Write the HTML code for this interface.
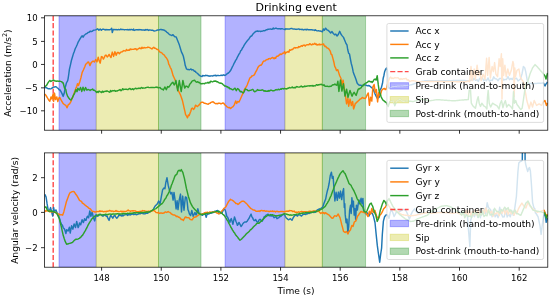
<!DOCTYPE html>
<html><head><meta charset="utf-8"><title>Drinking event</title>
<style>html,body{margin:0;padding:0;background:#fff;}body{width:550px;height:297px;overflow:hidden;}svg{display:block;}</style>
</head><body>
<svg width="550" height="297" viewBox="0 0 550 297" font-family='"DejaVu Sans","Liberation Sans",sans-serif' fill="#000">
<defs><clipPath id="ct"><rect x="44.5" y="15.8" width="503.3" height="114.4"/></clipPath><clipPath id="cb"><rect x="44.5" y="152.9" width="503.3" height="114.3"/></clipPath></defs>
<rect width="550" height="297" fill="#fff"/>
<text x="296.1" y="10.5" text-anchor="middle" font-size="11.0">Drinking event</text>
<g>
<rect x="59.0" y="15.8" width="37.2" height="114.4" fill="#0000ff" fill-opacity="0.3" stroke="#0000ff" stroke-opacity="0.3" stroke-width="0.92" clip-path="url(#ct)"/>
<rect x="96.2" y="15.8" width="62.3" height="114.4" fill="#bfbf00" fill-opacity="0.3" stroke="#bfbf00" stroke-opacity="0.3" stroke-width="0.92" clip-path="url(#ct)"/>
<rect x="158.5" y="15.8" width="42.5" height="114.4" fill="#008000" fill-opacity="0.3" stroke="#008000" stroke-opacity="0.3" stroke-width="0.92" clip-path="url(#ct)"/>
<rect x="225.1" y="15.8" width="59.8" height="114.4" fill="#0000ff" fill-opacity="0.3" stroke="#0000ff" stroke-opacity="0.3" stroke-width="0.92" clip-path="url(#ct)"/>
<rect x="284.9" y="15.8" width="37.4" height="114.4" fill="#bfbf00" fill-opacity="0.3" stroke="#bfbf00" stroke-opacity="0.3" stroke-width="0.92" clip-path="url(#ct)"/>
<rect x="322.3" y="15.8" width="43.3" height="114.4" fill="#008000" fill-opacity="0.3" stroke="#008000" stroke-opacity="0.3" stroke-width="0.92" clip-path="url(#ct)"/>
<line x1="53.2" y1="15.8" x2="53.2" y2="130.2" stroke="#ff0000" stroke-opacity="0.7" stroke-width="1.45" stroke-dasharray="5.09 2.2" clip-path="url(#ct)"/>
<polyline points="44.6,87.0 45.4,87.6 46.2,87.8 47.0,88.0 47.8,88.6 48.7,88.8 49.5,88.7 50.4,88.9 51.3,88.6 52.1,88.0 53.0,87.5 53.8,87.0 54.7,87.0 55.5,86.8 56.4,86.9 57.2,87.9 58.1,88.3 59.0,89.7 60.0,90.0 61.0,91.6 61.9,93.4 63.2,96.4 64.2,93.3 65.1,88.1 66.4,83.0 67.7,80.6 68.2,78.1 68.8,74.0 69.4,69.3 70.4,65.1 71.4,60.5 72.3,57.5 73.3,54.1 74.2,51.7 75.2,48.8 76.2,46.8 77.1,44.7 78.0,42.4 79.0,40.7 80.0,38.8 81.0,37.3 82.2,35.8 83.1,37.2 84.2,35.3 85.2,34.5 86.1,33.7 87.0,33.5 88.0,32.5 88.9,32.4 89.7,31.5 90.6,31.3 91.4,31.5 92.3,31.3 93.1,30.5 94.0,30.1 94.8,30.1 95.7,29.9 96.7,29.3 97.6,28.8 98.9,30.2 100.2,28.9 101.4,30.2 102.5,29.3 103.5,29.2 104.6,29.7 105.3,30.0 106.1,29.4 106.8,29.8 107.5,29.6 108.2,29.8 109.0,29.7 109.7,29.8 110.7,29.4 111.7,28.3 112.3,32.6 113.3,29.4 114.2,29.4 115.1,29.8 116.0,29.4 116.8,29.8 117.6,29.8 118.4,29.4 119.2,29.8 120.0,29.6 120.8,29.1 121.5,29.6 122.2,29.4 123.0,29.5 123.8,29.6 124.5,29.9 125.2,29.6 126.0,29.6 127.0,29.7 128.0,29.5 128.7,30.0 129.4,29.5 130.1,29.9 130.9,29.5 131.6,29.5 132.3,29.7 133.0,30.0 133.6,29.1 134.2,30.4 135.1,30.1 136.0,29.7 136.7,29.8 137.5,29.7 138.2,30.0 138.9,29.5 139.6,29.8 140.4,29.6 141.1,29.7 141.8,30.1 142.5,29.9 143.3,30.0 144.0,30.0 144.8,30.2 145.5,29.6 146.2,30.0 147.0,29.5 147.8,29.9 148.5,30.4 149.2,29.9 150.0,29.9 150.7,30.1 151.5,30.2 152.2,30.3 152.9,30.3 153.6,30.9 154.4,31.0 155.1,30.9 156.0,30.6 156.8,30.3 157.7,29.9 158.4,29.9 159.2,29.9 159.9,29.6 160.6,29.4 161.3,29.5 162.1,29.9 162.8,29.7 163.6,30.0 164.4,30.2 165.2,30.8 166.0,31.3 166.9,32.4 167.9,32.9 168.9,34.0 169.8,34.8 170.8,35.0 171.8,35.6 173.0,34.7 174.3,36.3 175.2,36.9 176.2,37.0 177.5,40.3 178.4,42.5 179.4,45.1 180.4,48.5 181.4,51.9 182.4,53.9 183.3,56.0 184.6,61.8 185.2,65.3 186.5,68.9 187.4,69.5 188.4,69.5 189.3,69.7 190.1,69.4 191.0,69.0 191.8,69.9 192.7,69.7 193.5,70.1 194.4,71.3 195.2,71.3 196.1,72.5 196.9,73.0 197.8,73.6 198.6,74.7 199.5,75.3 200.3,75.9 201.2,76.4 202.0,76.5 202.7,75.5 203.5,75.8 204.2,75.7 205.0,75.8 205.7,75.2 206.5,75.6 207.2,75.5 207.9,75.7 208.6,76.0 209.4,76.0 210.1,76.2 210.9,75.8 211.6,75.9 212.4,76.0 213.2,75.8 213.9,75.4 214.7,75.5 215.5,75.2 216.2,75.9 217.0,75.4 217.7,75.4 218.5,75.5 219.2,75.6 220.0,75.6 220.7,75.3 221.4,75.3 222.1,75.5 222.9,75.1 223.6,74.8 224.3,75.4 225.0,75.2 225.8,75.0 226.7,74.1 227.5,73.5 228.4,73.0 229.4,72.0 230.4,70.8 231.4,68.9 232.2,67.2 233.1,65.5 233.9,63.7 234.8,62.2 235.6,60.4 236.5,59.3 237.3,57.3 238.2,55.7 239.0,54.2 239.9,52.8 240.7,50.8 241.6,49.9 242.5,48.0 243.3,46.8 244.2,45.2 245.0,43.9 245.9,42.6 246.7,41.5 248.0,39.9 249.1,38.7 250.1,37.1 250.8,36.3 251.6,36.0 252.3,35.0 253.0,33.9 253.7,33.2 254.5,32.5 255.2,31.9 256.0,31.2 256.8,31.4 257.5,31.0 258.2,31.4 259.0,31.1 259.8,31.1 260.5,31.6 261.2,31.2 262.0,31.2 262.8,30.9 263.5,30.6 264.3,30.8 265.1,30.5 265.8,30.1 266.6,29.7 267.3,29.7 268.1,29.2 268.8,29.2 269.6,29.1 270.3,28.9 271.0,29.2 271.8,29.2 272.5,29.0 273.3,28.1 274.0,28.9 274.7,28.6 275.5,28.2 276.2,28.2 276.9,28.6 277.7,28.7 278.4,28.7 279.1,28.6 279.9,28.7 280.6,29.0 281.4,28.8 282.1,28.7 282.8,28.9 283.6,29.1 284.3,29.2 285.1,29.7 285.8,28.7 286.6,29.1 287.4,28.9 288.1,28.9 288.9,29.1 289.6,29.0 290.4,28.6 291.1,28.5 291.8,28.4 292.6,28.8 293.3,29.1 294.0,28.8 294.7,29.1 295.4,29.2 296.2,29.2 296.9,29.4 297.6,29.1 298.3,29.0 299.1,29.0 299.8,29.6 300.5,29.4 301.2,29.3 301.9,29.7 302.6,29.3 303.3,29.9 304.1,29.7 304.8,29.4 305.5,29.4 306.2,29.9 306.9,29.3 307.6,29.5 308.3,29.7 309.0,29.7 309.8,29.7 310.5,29.8 311.2,29.7 311.9,29.7 312.6,30.0 313.3,30.1 314.0,29.9 314.7,30.6 315.4,29.8 316.1,30.4 316.9,30.7 317.6,30.9 318.3,30.8 319.0,30.8 319.7,31.1 320.4,31.0 321.1,31.3 322.4,31.8 323.4,29.0 324.4,30.2 325.6,28.2 326.9,29.8 328.2,30.4 329.4,31.5 330.7,33.0 332.0,31.6 333.3,33.5 334.6,34.8 335.8,34.1 337.1,36.0 338.4,34.3 339.7,31.3 341.0,34.3 342.2,35.9 343.5,37.4 344.8,40.5 346.1,43.7 347.0,45.0 347.7,49.5 348.6,53.2 349.5,54.0 350.3,58.5 351.2,63.2 352.2,66.9 353.2,71.9 354.1,74.4 355.1,77.1 356.1,79.8 357.1,83.0 358.1,84.2 359.1,85.1 359.9,85.3 360.6,85.3 361.4,85.4 362.2,85.8 363.2,85.1 364.2,84.5 365.1,84.9 366.0,85.2 366.8,85.5 367.6,85.7 368.5,85.5 369.3,85.7 370.1,86.3 370.9,87.0 371.6,87.7 372.4,88.2 373.1,89.2 374.1,91.5 375.1,94.1 376.1,96.1 377.2,98.1 378.2,97.8 379.2,97.4 380.0,89.9 381.2,88.2 382.5,83.3 383.2,78.2 383.9,75.5 384.6,71.8 385.5,69.5 386.6,68.0 387.4,70.0 388.2,86.7 389.1,88.4 389.8,88.0 390.6,87.6 391.3,87.2 392.0,86.8 392.8,86.7 393.5,86.6 394.2,86.5 395.0,86.5 395.8,86.4 396.5,86.3 397.2,86.2 398.0,86.2 398.7,86.1 399.4,86.1 400.2,86.0 400.9,85.9 401.6,85.9 402.4,85.8 403.1,85.8 403.9,85.7 404.6,85.7 405.3,85.6 406.1,85.5 406.8,85.5 407.5,85.4 408.3,85.4 409.0,85.3 409.8,85.1 410.6,84.9 411.4,84.7 412.2,84.5 413.0,84.3 413.7,84.0 414.4,83.7 415.1,83.4 415.9,83.2 416.6,82.9 417.3,82.6 418.0,82.3 418.7,82.1 419.4,82.0 420.1,81.8 420.8,81.7 421.5,81.5 422.2,81.4 422.9,81.2 423.6,81.1 424.3,81.0 425.0,80.8 425.7,80.8 426.4,80.8 427.1,80.8 427.8,80.8 428.5,80.8 429.2,80.8 429.9,80.8 430.6,80.7 431.3,80.7 432.0,80.7 432.7,80.7 433.4,80.7 434.1,80.7 434.8,80.7 435.5,80.7 436.2,80.7 436.9,80.7 437.6,80.7 438.3,80.7 439.0,80.7 439.7,80.7 440.4,80.7 441.1,80.6 441.8,80.6 442.5,80.6 443.2,80.6 443.9,80.6 444.6,80.6 445.3,80.6 446.0,80.6 446.7,80.6 447.4,80.6 448.1,80.6 448.8,80.6 449.5,80.6 450.2,80.6 450.9,80.6 451.6,80.6 452.3,80.6 453.0,80.5 453.7,80.5 454.4,80.5 455.1,80.5 455.8,80.5 456.5,80.5 457.2,80.5 457.9,80.5 458.6,80.5 459.3,80.5 460.0,80.5 460.7,80.5 461.4,80.5 462.1,80.5 462.9,80.5 463.6,80.5 464.3,80.5 465.0,80.5 465.7,80.6 466.4,80.6 467.1,80.6 467.9,80.6 468.6,80.6 469.3,80.6 470.0,80.6 470.8,80.3 471.6,80.0 472.4,78.0 473.2,80.0 474.0,78.3 475.5,80.3 477.0,79.7 478.3,81.4 479.7,78.3 481.0,78.9 482.3,77.7 483.7,80.8 485.0,79.5 486.5,80.7 488.0,77.9 489.5,81.2 491.0,80.1 492.3,80.4 493.7,76.8 495.0,78.7 496.5,78.9 498.0,80.8 499.5,78.4 501.0,78.5 502.3,77.9 503.7,80.1 505.0,79.4 506.5,79.5 508.0,76.6 509.5,79.7 511.0,78.4 512.3,79.6 513.7,77.1 515.0,78.7 516.5,78.2 518.0,81.0 520.5,79.0 521.2,76.5 522.0,74.0 523.4,66.5 524.7,67.8 525.7,71.6 526.6,76.7 527.5,82.0 528.5,83.5 529.3,83.5 530.1,83.5 530.9,83.5 531.6,83.6 532.4,83.6 533.2,83.6 534.0,83.6 534.8,83.5 535.5,83.5 536.2,83.5 537.0,83.4 537.8,83.3 538.5,83.3 539.2,83.2 540.0,83.2 540.7,83.2 541.4,83.1 542.1,83.1 542.8,83.0 543.5,83.0 544.2,84.5 545.0,86.0 546.0,84.0 546.8,83.0 547.5,82.0" fill="none" stroke="#1f77b4" stroke-width="1.45" stroke-linejoin="round" stroke-linecap="butt" clip-path="url(#ct)"/>
<polyline points="44.6,94.2 45.6,94.9 46.6,96.5 47.5,98.0 48.5,99.7 49.8,101.3 51.0,96.9 51.9,98.9 53.0,94.3 53.6,101.4 54.5,93.1 55.5,99.6 56.8,96.9 57.8,101.6 59.1,97.6 59.9,97.4 60.6,99.2 61.6,100.8 62.6,102.7 63.5,103.8 64.5,104.7 65.8,105.3 67.0,107.8 68.3,104.7 69.6,103.8 70.9,101.7 72.2,98.1 73.2,95.7 74.1,93.2 75.0,90.7 76.0,88.1 76.8,86.3 77.5,83.7 78.5,85.5 79.8,81.7 80.9,77.9 82.2,72.4 83.5,69.8 84.8,66.8 85.8,64.1 86.7,63.7 87.7,62.1 88.6,61.9 89.9,65.6 91.2,62.6 92.2,61.7 93.1,61.1 94.4,62.0 95.7,59.5 97.0,61.9 98.2,57.3 99.2,60.9 100.2,63.2 101.4,56.6 102.4,56.9 103.4,59.1 104.3,57.5 105.3,55.2 106.2,55.2 107.2,57.0 108.2,55.9 109.1,54.4 110.0,56.1 111.0,57.5 112.3,52.1 113.6,56.4 114.9,51.7 116.2,55.3 117.4,52.4 118.4,52.5 119.4,53.8 120.3,52.6 121.3,51.9 122.2,51.8 123.0,51.2 123.9,50.6 124.9,50.9 125.8,51.0 126.5,49.4 127.3,50.4 128.0,50.3 128.8,50.0 129.5,50.3 130.2,48.9 131.0,49.6 131.8,49.3 132.7,49.4 133.5,49.3 134.4,49.0 135.2,48.7 136.1,49.0 136.8,49.9 137.6,49.1 138.3,48.9 139.0,48.4 139.7,47.9 140.5,48.5 141.2,48.7 141.9,47.2 142.6,48.2 143.3,48.1 144.0,47.5 144.8,47.7 145.5,47.9 146.3,47.6 147.2,47.5 148.0,47.1 149.1,47.4 150.1,47.9 151.0,48.4 151.9,49.0 152.9,47.9 153.8,47.2 154.7,48.2 155.5,48.3 156.4,49.0 157.4,49.5 158.3,49.7 159.2,51.2 160.2,52.2 161.2,52.5 162.2,53.3 163.1,54.4 164.1,54.9 165.1,56.4 166.0,57.4 167.3,59.3 168.2,61.6 168.7,64.2 169.5,65.4 170.3,67.6 171.1,68.8 172.1,72.0 173.0,75.4 173.9,77.2 174.7,79.0 175.6,81.2 176.5,84.5 177.3,87.6 178.2,90.6 178.9,91.7 179.6,93.1 180.3,94.5 181.4,97.4 182.4,100.4 183.3,104.3 184.2,108.4 184.9,111.3 185.6,114.7 186.6,116.2 187.5,117.8 188.4,115.0 189.2,115.5 190.0,113.2 190.8,111.3 191.5,108.7 192.5,108.1 193.5,109.4 194.5,108.3 195.5,105.2 196.5,105.9 197.5,106.6 198.5,105.4 199.5,104.6 200.3,103.3 201.0,102.6 201.8,102.2 202.6,102.3 203.4,102.4 204.2,103.2 205.0,103.3 205.8,103.6 206.6,103.7 207.4,104.1 208.2,104.3 209.0,103.5 209.9,103.3 210.7,102.7 211.6,102.2 212.6,101.8 213.5,102.0 214.3,102.9 215.2,103.4 216.0,103.8 216.8,103.4 217.6,103.8 218.4,103.2 219.3,103.2 220.1,103.3 221.0,104.0 221.9,103.4 222.9,103.0 223.9,103.5 224.8,104.7 225.8,105.6 226.7,106.6 227.6,107.2 228.6,107.7 229.6,107.5 230.6,108.6 231.4,107.7 232.3,107.0 233.1,106.6 234.4,104.6 235.7,100.9 236.7,103.5 237.6,101.5 238.9,102.1 240.2,99.5 241.4,96.7 242.7,93.9 243.6,91.5 244.6,89.1 245.6,87.8 246.6,86.1 247.3,84.7 248.0,82.7 248.9,80.4 249.9,77.8 250.9,77.4 251.8,76.0 252.8,75.7 253.8,75.3 254.8,74.0 255.7,71.9 256.6,70.5 257.6,68.2 258.6,66.4 259.5,65.7 260.4,65.1 261.2,65.2 262.1,63.9 262.9,62.0 263.8,61.0 264.6,61.1 265.5,60.6 266.3,59.8 267.2,59.4 268.0,59.4 268.7,58.6 269.5,58.5 270.2,59.0 271.0,58.3 271.8,57.8 272.6,57.5 273.3,57.9 274.1,58.8 274.9,57.8 275.7,58.3 276.4,56.5 277.2,56.3 277.9,56.2 278.7,55.2 279.5,55.0 280.2,53.9 281.0,54.5 281.7,54.4 282.5,53.2 283.2,53.3 283.9,52.7 284.6,51.6 285.3,53.8 286.0,52.4 286.7,52.3 287.5,51.8 288.2,51.4 288.9,52.2 289.7,49.8 290.4,50.3 291.1,49.8 291.9,49.5 292.6,49.6 293.4,48.5 294.1,47.9 294.9,47.6 295.6,48.0 296.4,47.6 297.1,47.6 297.9,47.8 298.6,46.6 299.3,47.1 300.1,46.8 300.8,46.2 301.6,45.7 302.3,46.3 303.0,45.3 303.8,45.3 304.5,45.1 305.2,46.1 306.0,45.1 306.7,44.8 307.4,44.8 308.2,44.7 308.9,44.8 309.7,43.8 310.4,44.0 311.1,44.7 311.9,44.9 312.6,44.0 313.3,44.4 314.1,44.1 314.8,43.3 315.5,44.4 316.3,44.0 317.0,45.1 317.8,44.6 318.5,44.7 319.2,44.1 320.0,44.9 320.7,44.4 321.7,44.5 322.7,44.2 323.5,43.9 324.2,45.6 325.0,46.5 325.8,46.3 326.6,47.7 327.3,47.9 328.1,48.4 328.8,48.9 329.6,50.1 330.3,51.2 331.1,54.3 331.8,54.5 332.9,58.4 333.9,62.2 334.7,66.4 335.6,67.9 336.5,70.6 337.8,69.7 338.7,72.6 339.6,75.5 340.9,78.2 342.1,85.0 343.1,80.1 344.4,89.0 345.6,96.7 346.6,103.8 347.9,98.3 348.7,106.2 349.4,102.4 350.1,99.1 351.4,105.5 352.6,101.4 353.6,108.9 354.5,106.3 355.4,103.3 356.1,103.1 356.8,102.2 357.5,101.7 358.4,100.6 359.2,100.1 360.1,99.1 361.0,98.8 361.8,98.0 362.7,97.5 363.6,98.2 364.5,98.3 365.4,98.5 366.2,97.1 367.1,94.9 368.3,93.0 369.4,105.3 370.6,97.3 371.8,101.1 372.9,86.9 374.1,84.5 375.3,92.3 376.4,89.5 377.6,101.9 378.8,92.4 380.2,95.7 380.9,93.4 381.6,90.5 382.6,89.3 383.7,88.7 384.5,88.4 385.2,89.5 386.0,89.5 386.7,87.4 387.5,84.4 388.2,81.8 389.0,79.8 389.9,77.7 390.7,77.1 391.5,78.5 392.4,78.0 393.2,78.6 394.9,77.6 396.5,77.9 398.1,77.7 399.8,79.6 401.0,78.6 402.2,79.3 403.5,78.7 404.7,78.8 405.9,78.3 407.2,80.0 408.4,79.8 409.7,81.6 411.4,80.8 413.0,80.6 413.8,80.8 414.6,80.9 415.4,81.1 416.3,81.3 417.1,81.4 417.9,81.6 418.6,81.6 419.4,81.6 420.1,81.6 420.8,81.6 421.6,81.6 422.3,81.6 423.1,81.6 423.8,81.6 424.5,81.6 425.3,81.6 426.0,81.6 426.7,81.6 427.4,81.6 428.1,81.6 428.9,81.5 429.6,81.5 430.3,81.5 431.0,81.5 431.7,81.5 432.4,81.5 433.1,81.5 433.9,81.4 434.6,81.4 435.3,81.4 436.0,81.4 436.7,81.4 437.4,81.4 438.1,81.4 438.9,81.5 439.6,81.5 440.3,81.5 441.0,81.5 441.7,81.5 442.4,81.5 443.1,81.5 443.9,81.6 444.6,81.6 445.3,81.6 446.0,81.6 446.7,81.6 447.5,81.6 448.2,81.6 448.9,81.6 449.6,81.6 450.4,81.6 451.1,81.6 451.8,81.6 452.5,81.6 453.3,81.6 454.0,81.6 454.7,81.6 455.5,81.6 456.2,81.7 456.9,81.7 457.6,81.7 458.4,81.7 459.1,81.7 459.8,81.7 460.5,81.8 461.3,81.8 462.0,81.8 462.8,81.8 463.6,81.8 464.4,81.8 465.2,81.8 466.0,81.8 466.8,81.5 467.7,81.3 468.5,81.0 469.7,81.8 471.0,66.5 472.2,80.6 473.2,74.8 474.2,69.0 475.4,79.3 476.2,72.2 477.1,65.2 478.4,75.4 479.1,73.5 479.9,71.6 481.2,80.6 482.1,77.4 483.1,74.2 484.1,76.8 485.0,79.3 485.8,68.8 486.6,58.2 487.6,75.4 488.4,66.5 489.1,57.5 490.4,78.0 491.2,72.2 492.1,66.5 493.4,71.6 494.6,62.6 495.9,74.2 496.8,75.5 497.6,76.7 498.4,67.8 499.1,58.8 500.1,66.5 501.4,53.7 502.0,99.0 502.7,58.8 503.6,75.4 504.9,65.2 506.2,76.7 507.0,72.8 507.8,69.0 508.6,72.2 509.4,75.4 510.4,72.8 511.3,70.3 512.1,65.8 512.9,61.4 513.6,64.0 514.2,96.8 514.8,68.0 515.5,76.7 516.2,73.5 517.0,70.3 518.0,69.7 518.9,69.0 520.2,76.7 521.5,79.3 522.5,80.6 523.5,81.9 524.3,86.2 525.1,90.6 526.0,95.5 526.8,100.5 527.6,103.2 528.4,106.0 529.2,108.7 530.0,105.4 530.9,102.1 531.7,104.5 532.5,107.0 533.4,103.8 534.2,100.5 535.0,102.1 535.8,103.8 536.6,105.4 537.4,104.9 538.3,104.3 539.1,103.8 539.9,104.3 540.8,104.9 541.6,105.4 542.4,103.8 543.2,102.1 544.0,101.3 544.9,100.5 545.7,103.0 546.5,105.4 547.5,103.0" fill="none" stroke="#ff7f0e" stroke-width="1.45" stroke-linejoin="round" stroke-linecap="butt" clip-path="url(#ct)"/>
<polyline points="44.6,86.2 45.6,86.3 46.6,85.3 47.8,83.2 48.8,81.6 49.8,80.4 50.8,81.4 51.7,81.0 52.7,80.4 53.6,79.9 54.5,80.8 55.5,81.0 56.4,81.3 57.2,80.9 58.1,81.3 58.9,81.3 59.8,81.1 60.6,81.4 61.5,81.6 62.3,82.5 63.2,83.0 64.5,88.0 65.8,89.4 66.4,93.0 67.7,96.4 69.0,98.3 70.0,99.5 70.9,100.1 72.2,98.2 73.4,95.4 74.7,93.1 76.0,89.6 77.0,91.7 77.9,88.3 79.2,90.2 80.5,87.5 81.8,91.4 83.0,87.3 84.3,90.7 85.6,87.5 86.9,90.2 88.2,89.4 89.2,89.8 90.1,90.5 90.9,89.8 91.8,89.6 92.6,89.0 93.5,90.2 94.5,90.3 95.5,91.2 96.5,92.4 97.3,91.5 98.2,92.5 99.0,91.0 100.0,91.7 101.0,92.0 101.7,92.6 102.5,91.2 103.2,92.2 104.0,91.4 104.7,91.6 105.5,91.2 106.2,91.4 107.0,90.8 108.0,91.4 109.0,91.9 109.8,92.2 110.5,90.5 111.2,91.6 112.0,91.0 112.9,90.6 113.9,90.8 114.8,90.5 115.5,91.3 116.3,90.9 117.0,91.0 117.8,90.6 118.5,90.3 119.2,90.0 120.0,89.6 121.0,90.7 122.0,89.9 122.7,88.7 123.5,89.7 124.2,89.4 124.9,89.3 125.7,89.2 126.5,89.2 127.2,89.5 128.0,89.6 129.0,88.8 130.0,88.5 131.0,89.6 132.0,89.3 132.8,88.7 133.5,89.7 134.2,89.0 135.0,88.5 135.8,88.2 136.5,88.8 137.2,88.5 138.0,88.6 138.8,88.1 139.5,88.2 140.2,88.6 141.0,87.9 141.8,87.5 142.6,88.2 143.4,87.9 144.2,88.1 145.0,88.0 145.8,87.6 146.5,87.5 147.2,87.4 148.0,87.1 149.0,87.6 150.0,87.6 150.8,87.5 151.6,87.4 152.4,87.5 153.2,87.4 154.0,87.6 154.7,87.5 155.5,87.3 156.2,87.4 157.0,87.0 157.7,87.6 158.5,87.8 159.2,87.6 160.0,87.5 160.7,88.5 161.5,89.0 162.4,89.2 163.4,90.0 164.2,88.3 165.0,87.0 166.3,89.7 167.6,86.6 168.9,87.2 170.2,85.3 170.9,84.3 171.6,83.4 172.9,82.2 174.2,85.0 175.1,83.4 175.9,80.4 176.8,85.6 177.7,90.7 178.5,85.7 179.3,80.5 180.2,85.9 181.2,91.6 182.1,85.9 182.9,80.4 183.8,84.4 184.7,88.0 186.0,86.1 186.7,86.3 187.5,86.6 188.2,87.5 188.9,86.3 189.7,84.4 190.4,83.4 191.2,82.5 192.1,81.1 193.0,80.7 193.9,80.4 194.6,80.2 195.4,81.4 196.1,81.9 196.9,82.2 197.8,81.7 198.6,82.5 199.5,82.5 200.3,83.5 201.2,83.8 202.1,83.8 202.9,83.4 203.8,83.6 204.6,83.7 205.3,82.9 206.1,83.1 206.8,82.8 207.6,82.4 208.4,83.1 209.1,82.2 209.9,82.8 210.6,81.2 211.4,81.4 212.3,81.9 213.1,81.6 214.0,81.0 214.9,81.3 215.7,80.9 216.6,81.7 217.4,81.7 218.3,82.3 219.2,83.0 220.0,83.0 220.8,83.3 221.6,83.3 222.5,83.9 223.3,84.8 224.2,85.4 225.0,86.2 225.9,85.9 226.7,86.9 227.5,86.7 228.3,87.8 229.0,87.5 229.8,88.8 230.6,88.6 231.4,89.1 232.3,89.7 233.1,89.7 234.1,88.8 235.0,88.2 236.3,90.7 237.6,88.5 238.6,89.3 239.5,90.5 240.4,91.8 241.4,91.5 242.4,92.5 243.4,92.9 244.4,91.3 245.3,88.9 246.2,89.4 247.2,89.9 248.0,90.6 248.9,90.8 249.7,90.4 250.5,90.3 251.3,90.1 252.2,89.5 253.0,89.5 253.9,91.1 254.9,91.8 255.7,91.1 256.6,90.9 257.4,89.6 258.3,90.2 259.1,90.2 260.0,90.4 261.0,90.3 262.0,89.8 262.8,90.1 263.5,90.4 264.2,91.2 265.0,90.7 265.8,91.3 266.6,91.2 267.3,91.0 268.1,91.3 268.8,90.6 269.6,91.1 270.3,90.2 271.0,90.1 271.8,90.4 272.7,90.8 273.5,90.8 274.4,90.6 275.3,90.0 276.2,89.6 277.0,89.9 277.7,89.7 278.5,89.2 279.2,89.8 280.0,89.4 280.7,88.9 281.4,89.3 282.1,88.5 282.9,88.6 283.6,88.9 284.3,88.3 285.1,88.8 286.0,88.8 286.8,89.0 287.6,88.2 288.4,88.2 289.2,87.5 290.0,87.7 290.8,87.9 291.6,87.6 292.4,86.9 293.1,87.7 293.8,87.8 294.5,87.5 295.5,87.7 296.5,86.6 297.3,86.7 298.1,87.1 298.9,87.1 299.7,87.1 300.5,86.4 301.3,86.1 302.2,87.0 303.0,86.7 303.8,86.7 304.5,86.1 305.2,86.6 306.0,86.1 306.8,86.2 307.5,85.9 308.3,85.9 309.1,85.8 309.8,86.0 310.6,85.8 311.5,85.9 312.3,85.5 313.1,86.3 314.0,85.6 314.8,85.9 315.5,85.8 316.2,84.8 317.0,84.7 317.7,85.3 318.5,84.7 319.2,84.7 320.0,84.5 320.7,84.5 321.4,84.3 322.1,84.9 322.8,85.0 323.5,85.4 324.3,84.9 325.1,86.3 326.0,86.4 326.8,86.3 327.6,86.3 328.4,86.5 329.2,86.6 330.0,86.3 330.8,86.4 331.6,85.8 332.4,85.0 333.3,84.7 334.1,84.8 334.9,84.0 335.9,84.9 336.9,85.3 337.9,81.2 338.9,91.4 339.7,85.6 340.5,80.1 341.9,91.1 342.6,87.4 343.4,83.8 344.2,90.0 345.0,96.1 345.8,92.3 346.6,89.2 348.0,97.4 349.0,93.6 350.0,90.4 350.7,92.6 351.4,94.6 352.1,96.2 353.1,93.7 354.1,92.3 355.1,93.9 356.1,95.4 357.1,92.4 358.1,89.4 358.9,88.8 359.6,88.9 360.4,88.1 361.2,87.8 362.0,86.1 362.8,86.1 363.6,84.4 364.4,84.7 365.2,83.5 366.0,83.0 366.8,82.6 367.6,82.2 368.3,81.3 369.1,81.1 369.9,81.5 370.6,81.9 371.4,81.6 372.1,82.4 373.1,81.3 374.1,79.5 375.1,79.1 376.2,80.1 377.2,75.7 378.2,84.2 379.2,91.3 380.2,93.8 381.2,97.0 382.2,98.9 383.2,100.4 383.9,100.7 384.6,101.5 385.3,101.9 386.6,102.9 387.4,104.8 388.2,106.5 389.0,104.0 389.9,101.6 390.7,101.4 391.5,101.3 392.4,101.2 393.2,101.0 394.0,103.3 394.8,105.7 395.6,103.7 396.5,101.6 397.3,101.0 398.1,100.3 399.0,99.7 399.8,99.1 400.6,99.7 401.5,100.3 402.3,101.0 403.1,101.6 403.9,101.4 404.8,101.2 405.6,101.0 406.4,100.8 407.1,100.9 407.9,101.0 408.6,101.1 409.3,101.2 410.1,101.2 410.8,101.3 411.5,101.4 412.3,101.5 413.0,101.6 413.7,101.4 414.5,101.1 415.2,100.9 416.0,100.7 416.7,100.5 417.5,100.2 418.2,100.0 419.0,99.8 419.7,99.6 420.5,99.3 421.2,99.1 421.9,99.3 422.7,99.4 423.4,99.6 424.2,99.7 424.9,99.9 425.7,100.0 426.4,100.2 427.2,100.3 427.9,100.5 428.7,100.6 429.4,100.8 430.2,100.7 430.9,100.6 431.7,100.5 432.4,100.4 433.2,100.3 433.9,100.1 434.7,100.0 435.4,99.9 436.2,99.8 436.9,99.7 437.7,99.6 438.5,99.7 439.2,99.7 440.0,99.8 440.7,99.9 441.5,99.9 442.2,100.0 443.0,100.0 443.7,100.1 444.5,100.2 445.2,100.2 446.0,100.3 446.7,100.3 447.5,100.4 448.2,100.4 448.9,100.5 449.6,100.5 450.4,100.6 451.1,100.6 451.8,100.7 452.5,100.7 453.3,100.8 454.0,100.8 454.7,100.7 455.5,100.7 456.2,100.6 456.9,100.5 457.6,100.4 458.4,100.4 459.1,100.3 459.8,100.2 460.5,100.1 461.3,100.1 462.0,100.0 462.7,100.0 463.4,99.9 464.1,99.9 464.8,99.8 465.5,99.8 466.2,99.7 466.9,99.7 467.6,99.6 468.3,99.6 469.2,90.4 470.5,89.8 471.3,103.2 472.1,104.5 472.8,105.8 473.7,106.6 474.5,107.5 475.4,108.3 476.4,103.8 477.3,99.4 478.2,96.8 479.2,103.2 480.5,106.4 481.8,103.2 482.8,104.5 483.7,105.8 484.6,106.4 485.6,107.0 486.9,109.0 487.5,96.8 488.2,90.4 489.2,103.2 489.9,105.1 490.7,107.0 491.6,105.1 492.6,103.2 493.6,103.8 494.6,104.5 495.4,104.9 496.3,105.4 497.1,105.8 498.1,107.4 499.0,109.0 500.3,103.2 501.6,100.6 502.9,107.7 504.2,103.2 505.4,100.6 506.7,107.0 507.6,105.8 508.6,104.5 509.6,105.5 510.6,106.4 511.6,107.7 512.5,109.0 513.5,91.7 514.4,103.2 515.7,100.6 517.0,104.5 518.0,105.8 518.9,107.0 519.8,108.3 520.8,109.6 522.1,108.3 523.3,100.6 524.6,91.7 526.0,84.0 526.8,83.0 527.6,82.0 528.4,79.3 529.2,76.7 530.0,74.0 530.8,72.0 531.7,70.0 532.5,68.0 533.3,66.9 534.2,65.7 535.0,64.6 535.8,65.4 536.7,66.2 537.5,67.0 538.3,68.0 539.2,69.0 540.0,70.0 540.8,70.9 541.6,71.8 542.4,72.8 543.2,73.7 544.1,74.8 545.0,76.0 546.0,79.0 547.0,75.0 547.6,73.0" fill="none" stroke="#2ca02c" stroke-width="1.45" stroke-linejoin="round" stroke-linecap="butt" clip-path="url(#ct)"/>
<line x1="41.0" y1="17.8" x2="44.5" y2="17.8" stroke="#000" stroke-width="0.8"/>
<text x="37.6" y="21.00" text-anchor="end" font-size="8.55">10</text>
<line x1="41.0" y1="41.4" x2="44.5" y2="41.4" stroke="#000" stroke-width="0.8"/>
<text x="37.6" y="44.60" text-anchor="end" font-size="8.55">5</text>
<line x1="41.0" y1="64.45" x2="44.5" y2="64.45" stroke="#000" stroke-width="0.8"/>
<text x="37.6" y="67.65" text-anchor="end" font-size="8.55">0</text>
<line x1="41.0" y1="87.85" x2="44.5" y2="87.85" stroke="#000" stroke-width="0.8"/>
<text x="37.6" y="91.05" text-anchor="end" font-size="8.55">−5</text>
<line x1="41.0" y1="110.8" x2="44.5" y2="110.8" stroke="#000" stroke-width="0.8"/>
<text x="37.6" y="114.00" text-anchor="end" font-size="8.55">−10</text>
<rect x="386.9" y="23.5" width="156.7" height="98.9" rx="1.8" ry="1.8" fill="#fff" fill-opacity="0.8" stroke="#d0d0d0" stroke-opacity="0.8" stroke-width="0.9"/>
<line x1="390.2" y1="31.00" x2="408.6" y2="31.00" stroke="#1f77b4" stroke-width="1.45"/>
<text x="415.4" y="34.15" font-size="9.12">Acc x</text>
<line x1="390.2" y1="44.40" x2="408.6" y2="44.40" stroke="#ff7f0e" stroke-width="1.45"/>
<text x="415.4" y="47.55" font-size="9.12">Acc y</text>
<line x1="390.2" y1="57.90" x2="408.6" y2="57.90" stroke="#2ca02c" stroke-width="1.45"/>
<text x="415.4" y="61.05" font-size="9.12">Acc z</text>
<line x1="390.2" y1="71.60" x2="408.6" y2="71.60" stroke="#ff0000" stroke-opacity="0.7" stroke-width="1.45" stroke-dasharray="5.09 2.2"/>
<text x="415.4" y="74.75" font-size="9.12">Grab container</text>
<rect x="390.2" y="82.70" width="18.4" height="6.4" fill="#0000ff" fill-opacity="0.3" stroke="#0000ff" stroke-opacity="0.3" stroke-width="0.92"/>
<text x="415.4" y="89.05" font-size="9.12">Pre-drink (hand-to-mouth)</text>
<rect x="390.2" y="96.50" width="18.4" height="6.4" fill="#bfbf00" fill-opacity="0.3" stroke="#bfbf00" stroke-opacity="0.3" stroke-width="0.92"/>
<text x="415.4" y="102.85" font-size="9.12">Sip</text>
<rect x="390.2" y="110.30" width="18.4" height="6.4" fill="#008000" fill-opacity="0.3" stroke="#008000" stroke-opacity="0.3" stroke-width="0.92"/>
<text x="415.4" y="116.65" font-size="9.12">Post-drink (mouth-to-hand)</text>
<clipPath id="lp4"><rect x="390.2" y="82.70" width="18.4" height="6.4"/></clipPath>
<polyline points="387.4,70.0 388.2,86.7 389.1,88.4 389.8,88.0 390.6,87.6 391.3,87.2 392.0,86.8 392.8,86.7 393.5,86.6 394.2,86.5 395.0,86.5 395.8,86.4 396.5,86.3 397.2,86.2 398.0,86.2 398.7,86.1 399.4,86.1 400.2,86.0 400.9,85.9 401.6,85.9 402.4,85.8 403.1,85.8 403.9,85.7 404.6,85.7 405.3,85.6 406.1,85.5 406.8,85.5 407.5,85.4 408.3,85.4 409.0,85.3 409.8,85.1 410.6,84.9 411.4,84.7" fill="none" stroke="#fff" stroke-opacity="0.55" stroke-width="1.2" clip-path="url(#lp4)"/>
<clipPath id="lp5"><rect x="390.2" y="96.50" width="18.4" height="6.4"/></clipPath>
<polyline points="387.4,104.8 388.2,106.5 389.0,104.0 389.9,101.6 390.7,101.4 391.5,101.3 392.4,101.2 393.2,101.0 394.0,103.3 394.8,105.7 395.6,103.7 396.5,101.6 397.3,101.0 398.1,100.3 399.0,99.7 399.8,99.1 400.6,99.7 401.5,100.3 402.3,101.0 403.1,101.6 403.9,101.4 404.8,101.2 405.6,101.0 406.4,100.8 407.1,100.9 407.9,101.0 408.6,101.1 409.3,101.2 410.1,101.2 410.8,101.3 411.5,101.4" fill="none" stroke="#fff" stroke-opacity="0.55" stroke-width="1.2" clip-path="url(#lp5)"/>
<rect x="44.5" y="15.8" width="503.3" height="114.4" fill="none" stroke="#000" stroke-width="0.73"/>
</g>
<g>
<rect x="59.0" y="152.9" width="37.2" height="114.3" fill="#0000ff" fill-opacity="0.3" stroke="#0000ff" stroke-opacity="0.3" stroke-width="0.92" clip-path="url(#cb)"/>
<rect x="96.2" y="152.9" width="62.3" height="114.3" fill="#bfbf00" fill-opacity="0.3" stroke="#bfbf00" stroke-opacity="0.3" stroke-width="0.92" clip-path="url(#cb)"/>
<rect x="158.5" y="152.9" width="42.5" height="114.3" fill="#008000" fill-opacity="0.3" stroke="#008000" stroke-opacity="0.3" stroke-width="0.92" clip-path="url(#cb)"/>
<rect x="225.1" y="152.9" width="59.8" height="114.3" fill="#0000ff" fill-opacity="0.3" stroke="#0000ff" stroke-opacity="0.3" stroke-width="0.92" clip-path="url(#cb)"/>
<rect x="284.9" y="152.9" width="37.4" height="114.3" fill="#bfbf00" fill-opacity="0.3" stroke="#bfbf00" stroke-opacity="0.3" stroke-width="0.92" clip-path="url(#cb)"/>
<rect x="322.3" y="152.9" width="43.3" height="114.3" fill="#008000" fill-opacity="0.3" stroke="#008000" stroke-opacity="0.3" stroke-width="0.92" clip-path="url(#cb)"/>
<line x1="53.2" y1="152.9" x2="53.2" y2="267.2" stroke="#ff0000" stroke-opacity="0.7" stroke-width="1.45" stroke-dasharray="5.09 2.2" clip-path="url(#cb)"/>
<polyline points="44.9,194.4 46.1,197.1 47.1,203.9 48.4,211.1 49.6,210.3 50.6,207.6 51.9,213.0 52.7,216.0 53.6,207.5 54.5,211.8 55.9,209.9 57.1,212.7 58.3,215.4 59.0,217.3 59.7,219.0 60.6,222.4 61.5,224.3 62.4,225.2 63.2,227.6 64.6,229.3 65.9,233.6 66.7,229.7 68.1,231.1 69.4,227.2 70.2,233.0 71.6,225.8 72.9,229.2 74.1,223.9 74.8,225.6 75.5,227.6 76.7,221.4 78.1,227.6 78.8,226.1 79.5,223.0 80.7,224.8 82.1,219.7 83.4,222.6 84.6,218.8 85.3,220.3 86.0,220.3 86.7,218.0 87.4,216.2 88.6,217.8 89.8,210.9 90.9,216.3 92.1,212.0 92.8,215.0 93.5,217.9 94.7,220.9 96.1,214.6 97.4,216.2 98.2,215.8 99.1,214.3 99.8,214.4 100.6,214.3 101.6,215.2 102.6,216.1 103.3,216.0 104.0,215.3 104.7,215.1 105.5,215.1 106.3,216.4 107.1,216.1 108.1,218.7 109.1,220.4 109.9,217.6 110.7,215.3 111.8,216.8 112.8,218.2 113.8,216.1 114.8,215.2 115.8,217.1 116.8,218.3 117.6,217.3 118.4,216.1 119.2,214.3 120.1,215.7 121.0,214.9 121.9,216.2 122.7,214.8 123.4,215.7 124.2,215.0 124.9,214.9 125.7,214.6 126.5,214.0 127.4,215.5 128.2,214.5 129.0,214.9 129.8,214.8 130.6,214.9 131.4,214.2 132.2,214.2 133.0,213.4 133.8,214.7 134.6,214.1 135.4,214.3 136.2,214.7 137.0,214.6 137.8,214.4 138.6,213.7 139.5,213.7 140.3,213.7 141.1,213.4 141.9,213.3 142.7,213.5 143.5,213.7 144.3,213.9 145.1,213.8 145.9,213.4 146.7,213.0 147.6,213.3 148.4,212.6 149.2,212.2 150.0,211.9 150.8,211.3 151.5,211.0 152.2,210.5 153.0,210.0 153.9,208.2 154.8,206.7 155.6,205.4 156.5,204.9 157.4,203.8 158.6,201.0 159.3,202.3 160.0,204.0 160.7,200.3 161.4,196.4 162.6,189.8 163.3,188.8 164.0,187.9 164.9,188.8 165.8,182.6 167.0,177.8 168.2,185.2 168.9,188.0 169.6,190.7 170.8,193.9 171.9,192.4 173.1,200.1 174.0,192.4 175.2,200.8 176.1,209.0 177.1,200.7 178.0,209.6 179.2,200.1 180.5,194.1 181.5,211.9 182.7,196.1 184.0,210.3 184.7,203.3 185.4,196.9 186.6,197.6 187.3,203.1 188.0,209.8 188.7,211.4 189.4,213.9 190.6,215.6 191.8,210.5 193.2,216.3 194.1,214.3 195.0,212.4 195.7,214.7 196.4,214.9 197.1,211.9 197.8,208.8 198.6,211.7 199.3,214.0 200.6,214.5 201.6,214.6 202.6,215.3 203.6,214.3 204.6,213.0 205.4,214.8 206.2,217.2 206.9,214.8 207.6,214.2 208.4,214.0 209.1,213.8 209.9,213.4 210.7,213.3 211.4,212.8 212.2,213.0 212.9,211.8 213.7,212.4 214.7,211.3 215.7,211.3 216.7,210.7 217.7,210.5 218.4,211.4 219.1,213.3 219.8,213.6 220.8,213.0 221.8,213.2 222.8,211.3 223.8,209.1 225.2,210.0 226.0,212.9 226.8,216.4 227.7,217.3 228.5,219.4 229.2,221.1 229.9,222.3 230.6,219.8 231.3,218.6 232.1,221.3 232.9,224.3 233.7,220.6 234.5,217.0 235.2,219.1 235.9,221.3 236.7,223.0 237.4,225.3 238.2,224.3 239.0,222.4 240.0,224.3 241.0,226.5 242.0,225.2 243.0,223.5 244.0,222.5 245.0,221.9 246.1,222.1 247.1,221.3 248.1,219.6 249.1,218.3 250.1,216.0 251.1,214.1 251.9,216.9 252.7,217.9 253.4,219.6 254.1,220.5 254.8,220.5 255.6,219.4 256.4,221.0 257.2,222.1 258.0,222.3 259.0,220.0 260.0,219.2 260.7,220.0 261.4,220.6 262.1,221.2 263.1,219.7 264.1,216.9 265.1,216.3 266.1,215.1 267.1,214.7 268.1,214.2 269.1,215.8 270.2,215.6 271.2,216.0 272.2,215.5 273.2,216.4 274.2,217.7 275.2,217.0 276.2,217.0 277.0,218.7 277.8,218.2 278.9,217.6 279.9,216.1 280.7,216.6 281.5,215.7 282.3,214.9 283.3,214.5 284.3,214.2 285.3,216.3 286.3,218.0 287.4,218.9 288.4,219.8 289.4,219.4 290.4,218.7 291.2,219.5 292.0,220.2 293.4,217.4 294.4,216.0 295.4,215.0 296.1,215.4 296.8,215.7 297.5,216.1 298.5,214.6 299.5,214.9 300.5,215.4 301.5,216.1 302.5,214.8 303.5,214.3 304.3,214.2 305.1,214.0 305.8,214.6 306.6,213.7 307.4,213.9 308.1,212.8 308.9,213.6 309.6,213.2 310.4,212.6 311.1,212.7 311.9,211.9 312.6,212.4 313.4,212.5 314.1,211.2 314.9,212.4 315.7,212.0 316.4,211.0 317.2,210.1 317.9,209.6 318.7,209.3 319.5,208.8 320.4,209.5 321.2,208.2 322.1,207.6 323.0,206.4 323.9,203.5 324.7,201.4 325.6,199.3 326.5,194.6 327.4,190.7 328.2,187.9 329.1,183.5 330.3,175.4 331.4,172.2 332.3,178.3 333.1,176.4 334.0,188.7 334.9,201.0 336.1,192.3 337.3,200.3 338.4,192.1 339.5,198.1 340.5,191.1 341.7,199.6 342.7,192.1 343.6,188.6 344.3,207.5 344.8,203.7 345.2,214.4 346.1,222.7 347.0,219.1 347.9,233.1 348.7,226.3 349.6,210.6 350.5,205.3 351.2,213.5 351.9,197.8 352.7,206.8 353.4,201.1 354.2,215.1 354.9,208.6 355.7,219.7 356.4,205.2 357.4,210.0 358.1,204.7 358.9,199.9 359.7,203.8 360.4,200.9 361.1,198.3 362.0,203.6 362.9,198.4 363.6,210.5 364.5,211.7 365.4,213.2 366.2,214.0 367.1,212.8 368.0,213.9 368.9,216.1 369.8,214.2 370.6,212.8 371.5,213.0 372.4,213.6 373.6,216.8 375.0,222.5 376.2,234.7 377.3,245.4 378.2,252.0 378.9,256.6 379.7,262.2 380.7,254.0 381.6,248.1 382.3,234.8 383.4,221.1 384.6,216.7 386.0,215.0 386.9,214.8 387.7,215.2 389.0,218.4 390.2,212.6 391.5,209.4 392.8,212.6 394.1,216.5 395.1,214.6 396.0,212.6 396.9,212.4 397.7,212.2 398.6,212.0 399.4,211.6 400.3,211.1 401.1,210.7 402.0,210.3 402.8,209.8 403.7,209.4 404.6,209.8 405.6,210.1 406.6,212.0 407.5,213.9 408.4,216.4 409.4,219.0 410.7,215.2 411.6,213.3 412.6,211.4 413.6,210.1 414.6,208.8 415.6,210.4 416.5,212.0 417.4,212.7 418.4,213.3 419.1,213.2 419.9,213.1 420.6,213.0 421.3,212.9 422.0,212.8 422.8,212.7 423.5,212.6 424.3,212.6 425.0,212.6 425.8,212.6 426.6,212.6 427.4,212.6 428.1,212.6 428.9,212.6 429.7,212.6 430.4,212.6 431.2,212.6 431.9,212.5 432.6,212.5 433.3,212.4 434.0,212.3 434.8,212.3 435.5,212.2 436.2,212.1 436.9,212.1 437.6,212.0 438.4,212.1 439.1,212.1 439.9,212.2 440.7,212.2 441.4,212.3 442.2,212.3 442.9,212.4 443.7,212.4 444.5,212.5 445.2,212.5 446.0,212.6 446.7,212.6 447.5,212.6 448.2,212.6 448.9,212.6 449.6,212.6 450.4,212.5 451.1,212.5 451.8,212.5 452.5,212.5 453.3,212.5 454.0,212.5 454.7,212.5 455.5,212.5 456.2,212.5 456.9,212.5 457.6,212.5 458.4,212.5 459.1,212.5 459.8,212.5 460.5,212.5 461.3,212.5 462.0,212.5 462.7,212.8 463.4,213.1 464.1,213.3 464.9,213.6 465.6,213.9 466.3,214.2 467.3,214.2 468.7,232.4 469.9,246.6 470.7,220.3 471.5,217.2 472.4,213.7 474.4,216.7 476.4,211.1 477.7,217.4 479.1,211.7 480.4,217.7 481.8,209.9 483.1,214.7 484.5,209.0 485.8,213.9 487.2,202.7 488.5,207.6 490.6,209.7 492.1,216.8 493.6,209.5 495.1,216.8 496.6,214.2 498.1,217.7 499.7,207.3 501.2,213.4 502.7,217.0 504.2,216.8 505.7,209.1 507.2,217.0 508.8,214.2 510.3,216.8 511.8,210.6 513.3,215.3 514.8,208.1 515.6,202.3 516.4,196.5 517.3,182.0 517.9,172.0 518.8,163.0 519.5,162.2 520.3,161.5 521.6,161.0 522.3,160.4 522.5,138.0 523.3,138.0 524.2,138.0 525.0,138.0 525.1,160.4 525.6,164.0 526.4,167.0 527.7,171.6 528.6,168.5 529.5,167.5 530.4,171.0 531.3,182.4 532.6,202.6 534.0,208.1 534.7,208.4 535.4,212.9 536.1,213.5 538.1,216.8 540.1,226.3 541.1,234.4 542.1,226.3 543.5,216.2 544.8,212.2 545.5,217.2 546.2,222.3 547.5,218.0" fill="none" stroke="#1f77b4" stroke-width="1.45" stroke-linejoin="round" stroke-linecap="butt" clip-path="url(#cb)"/>
<polyline points="44.6,211.9 45.9,210.6 46.7,211.0 47.5,210.5 48.3,211.2 49.1,211.1 49.8,211.8 50.6,211.6 51.3,212.0 52.0,211.6 52.7,211.9 53.5,211.8 54.2,211.9 55.0,212.4 55.8,212.4 56.5,213.1 57.3,213.7 58.1,213.9 58.9,214.0 59.8,214.9 60.6,214.6 61.6,214.8 62.6,215.2 63.8,211.9 65.1,206.9 66.4,201.8 67.7,198.2 69.0,194.7 70.2,192.5 71.2,192.1 72.2,191.6 73.2,191.5 74.1,191.7 75.4,193.7 76.6,195.2 77.6,196.9 78.6,198.7 79.5,200.4 80.5,201.0 81.5,201.4 82.4,203.1 83.3,203.5 84.1,204.2 85.0,205.1 85.8,205.7 86.7,206.3 87.5,206.8 88.4,207.9 89.2,208.5 90.1,208.8 90.9,209.6 91.8,210.7 92.6,211.5 93.6,211.4 94.6,211.9 95.6,211.9 96.3,211.7 97.0,211.5 97.7,211.6 98.5,211.4 99.2,211.4 99.9,210.8 100.6,211.4 101.4,211.3 102.3,211.2 103.2,211.7 104.0,211.6 104.8,211.4 105.6,211.5 106.3,211.7 107.1,211.1 107.9,211.2 108.7,210.9 109.5,210.5 110.3,210.8 111.2,211.2 112.0,211.0 112.8,211.1 113.6,211.5 114.4,211.4 115.2,211.2 116.0,210.6 116.8,211.3 117.6,211.3 118.4,211.5 119.2,211.6 120.0,211.4 120.7,211.2 121.4,211.2 122.1,212.0 122.8,211.3 123.5,211.4 124.2,211.4 124.9,211.5 125.7,211.4 126.5,211.2 127.4,210.7 128.2,210.1 129.0,210.8 129.8,210.9 130.6,211.2 131.4,210.9 132.2,210.8 133.0,211.1 133.8,210.7 134.6,210.9 135.4,211.0 136.2,211.4 137.0,211.7 137.8,211.6 138.6,211.7 139.5,211.5 140.3,211.5 141.1,211.3 141.9,211.2 142.7,210.6 143.4,210.9 144.2,210.8 145.0,211.1 145.8,211.2 146.7,211.4 147.5,211.5 148.4,211.1 149.2,211.3 150.0,211.6 150.8,211.0 151.6,211.2 152.4,210.8 153.2,210.3 154.0,210.6 155.1,211.4 156.1,212.6 156.8,212.6 157.6,212.8 158.3,212.3 159.1,213.4 159.8,213.3 160.6,213.0 161.3,212.9 162.1,213.2 162.9,213.2 163.6,213.0 164.4,212.8 165.1,212.0 165.9,212.0 166.7,212.5 167.4,212.0 168.2,211.6 169.0,212.1 169.8,212.4 170.6,213.0 171.4,214.0 172.2,214.2 173.0,214.9 173.8,215.0 174.7,215.0 175.5,215.6 176.3,216.5 177.1,216.3 177.8,216.4 178.6,217.3 179.3,217.2 180.3,218.2 181.3,219.5 182.4,219.4 183.4,220.4 184.4,218.5 185.4,217.0 186.2,217.1 186.9,217.8 187.7,217.6 188.4,217.6 189.2,218.0 189.9,219.2 190.7,219.6 191.5,219.8 192.2,219.8 193.0,218.5 193.8,217.6 194.5,217.2 195.3,217.0 196.1,216.8 196.9,216.3 197.7,215.5 198.5,215.1 199.3,214.5 200.1,214.6 201.0,214.2 201.8,214.1 202.6,213.6 203.4,213.4 204.2,213.1 205.0,212.8 205.8,212.5 206.6,212.5 207.4,212.2 208.2,212.6 209.1,212.4 209.9,211.9 210.7,212.3 211.5,212.2 212.3,212.4 213.1,211.9 213.9,211.8 214.7,211.7 215.5,212.2 216.3,212.7 217.2,213.0 218.0,213.3 218.8,213.9 219.8,213.2 220.8,212.6 221.8,211.1 222.8,210.0 223.6,208.9 224.3,208.1 225.1,207.5 225.8,206.9 226.7,205.2 227.6,203.3 228.5,201.6 229.5,200.6 230.5,199.3 231.3,199.9 232.1,200.1 232.9,200.6 233.7,201.3 234.4,202.0 235.2,202.6 235.9,203.6 236.9,203.5 238.0,204.4 238.9,203.9 239.7,202.8 240.6,202.3 241.4,201.5 242.2,201.3 243.0,201.1 243.8,201.3 244.7,201.9 245.5,202.9 246.4,203.4 247.2,204.4 248.1,205.5 248.8,206.4 249.6,207.1 250.3,208.1 251.1,208.7 252.1,209.2 253.1,210.0 253.8,209.9 254.6,210.2 255.3,210.7 256.0,211.3 256.8,211.2 257.5,211.3 258.3,211.2 259.1,210.9 259.8,211.4 260.6,210.6 261.3,210.5 262.1,210.5 262.9,211.0 263.6,210.7 264.4,210.6 265.1,211.0 265.9,211.3 266.6,211.0 267.4,211.1 268.1,211.3 268.8,211.5 269.6,211.5 270.3,211.1 271.0,211.3 271.8,211.4 272.5,210.9 273.3,211.6 274.0,211.4 274.7,211.3 275.5,212.0 276.2,211.4 276.9,211.3 277.7,211.5 278.4,211.7 279.1,211.8 279.9,211.6 280.6,211.4 281.4,211.5 282.1,211.5 282.8,211.5 283.6,211.8 284.3,211.7 285.1,211.7 285.8,211.3 286.6,211.1 287.4,211.2 288.1,211.0 288.9,211.2 289.6,210.5 290.4,210.6 291.1,210.8 291.9,210.7 292.6,211.4 293.4,211.4 294.1,211.1 294.9,212.0 295.6,212.2 296.4,212.1 297.1,212.6 297.9,212.2 298.6,211.8 299.3,212.2 300.1,211.9 300.8,211.6 301.6,211.4 302.3,212.0 303.0,211.7 303.8,212.0 304.5,211.8 305.2,211.6 306.0,211.6 306.7,212.1 307.4,212.0 308.2,211.7 308.9,211.4 309.7,211.2 310.4,211.3 311.1,211.7 311.9,211.4 312.6,211.2 313.4,210.9 314.1,211.2 314.9,211.0 315.6,211.2 316.4,211.4 317.2,211.5 317.9,211.2 318.7,211.2 319.7,212.3 320.7,213.4 321.4,213.1 322.2,212.5 322.9,213.1 323.7,212.6 324.5,213.7 325.2,212.8 326.0,213.1 326.7,213.5 327.4,214.2 328.1,214.5 328.8,214.8 329.5,215.5 330.4,216.6 331.2,217.4 332.1,218.3 333.0,218.0 333.8,216.8 334.7,215.8 335.6,215.9 336.5,216.3 337.4,215.1 338.2,214.0 339.1,215.9 340.0,217.6 340.9,221.1 341.7,224.5 342.6,227.6 343.5,231.4 344.4,232.0 345.2,232.4 345.9,231.8 346.6,231.5 347.9,234.0 349.1,231.4 350.5,229.8 351.9,225.4 353.1,226.4 354.3,222.0 355.7,221.1 356.6,219.1 357.5,216.3 358.4,215.3 359.2,213.8 360.1,212.6 361.0,211.4 361.9,212.0 362.7,211.9 363.6,212.4 364.5,212.4 365.3,212.8 366.2,213.1 367.1,215.1 368.0,216.6 369.4,211.3 370.6,214.0 371.8,208.5 373.2,212.4 374.1,211.5 375.0,210.6 375.9,213.6 376.7,216.5 377.6,217.4 378.5,218.5 379.4,216.5 380.2,214.8 381.1,213.9 382.0,212.4 382.9,210.5 383.7,208.8 384.5,207.9 385.2,207.3 386.0,206.0 386.7,204.5 388.0,204.3 388.7,205.6 389.5,206.9 390.2,208.2 391.0,208.6 391.8,209.0 392.5,209.3 393.3,209.7 394.1,210.1 394.9,210.5 395.6,210.9 396.4,211.2 397.1,211.6 397.9,212.0 398.7,212.5 399.5,213.0 400.2,213.6 401.0,214.1 401.8,214.6 402.6,214.7 403.3,214.8 404.1,215.0 404.8,215.1 405.6,215.2 406.3,215.3 407.1,215.4 407.8,215.5 408.5,215.5 409.2,215.6 410.0,215.7 410.7,215.8 411.4,215.7 412.2,215.6 412.9,215.5 413.6,215.5 414.3,215.4 415.1,215.3 415.8,215.2 416.5,215.0 417.3,214.8 418.0,214.6 418.8,214.5 419.5,214.3 420.3,214.1 421.0,213.9 421.7,213.7 422.5,213.5 423.2,213.3 423.9,213.2 424.6,213.0 425.4,212.8 426.1,212.6 426.8,212.7 427.6,212.8 428.3,212.9 429.0,213.0 429.7,213.1 430.5,213.2 431.2,213.3 431.9,213.2 432.6,213.1 433.3,213.1 434.0,213.0 434.8,212.9 435.5,212.8 436.2,212.8 436.9,212.7 437.6,212.6 438.4,212.6 439.1,212.6 439.9,212.6 440.7,212.6 441.4,212.6 442.2,212.5 442.9,212.5 443.7,212.5 444.5,212.5 445.2,212.5 446.0,212.5 446.7,212.6 447.5,212.6 448.2,212.7 448.9,212.8 449.6,212.9 450.4,212.9 451.1,213.0 451.8,213.1 452.5,213.2 453.3,213.2 454.0,213.3 454.7,212.9 455.5,212.6 456.2,212.2 457.0,212.6 457.8,213.0 458.6,213.4 459.4,213.8 460.2,214.2 461.0,214.1 461.7,213.9 462.5,213.8 463.2,213.7 464.0,213.6 464.8,213.4 465.5,213.3 466.3,210.4 467.8,215.6 469.4,210.2 470.9,215.5 472.4,211.6 473.7,215.1 475.1,209.8 476.4,215.1 477.7,209.9 479.1,215.8 480.4,211.3 481.8,214.1 483.1,209.8 484.4,213.2 485.8,208.0 487.1,212.8 488.5,209.8 490.0,213.3 491.6,211.2 493.1,216.2 494.6,213.2 496.1,213.9 497.6,211.6 499.2,215.7 500.7,210.8 502.2,213.3 503.7,209.1 505.2,214.0 506.7,209.1 508.2,214.6 509.8,209.8 511.3,213.9 512.8,211.8 514.1,215.2 515.5,210.5 516.8,213.7 518.3,209.1 519.9,206.1 520.9,204.6 521.9,203.1 522.9,204.6 523.9,206.1 524.9,207.1 525.9,208.1 526.6,206.1 527.3,204.1 528.0,202.1 529.0,204.1 530.0,206.1 530.8,206.8 531.5,207.6 532.2,208.3 533.0,209.1 533.8,209.7 534.6,210.3 535.5,211.0 536.3,211.6 537.1,212.2 537.9,212.0 538.7,211.8 539.5,211.6 540.3,211.4 541.1,211.2 541.9,210.9 542.6,210.7 543.4,210.4 544.1,210.2 544.8,212.2 545.5,214.2 546.2,216.2 547.5,214.0" fill="none" stroke="#ff7f0e" stroke-width="1.45" stroke-linejoin="round" stroke-linecap="butt" clip-path="url(#cb)"/>
<polyline points="44.6,207.5 45.9,206.8 47.2,210.0 48.2,210.8 49.1,211.5 49.9,211.3 50.6,211.0 51.4,211.2 52.1,211.0 52.9,211.6 53.6,211.6 54.4,212.2 55.1,212.2 56.1,213.0 57.1,214.1 57.8,215.5 58.5,216.9 59.2,218.3 60.2,222.3 61.2,226.2 62.2,230.9 63.2,235.3 64.2,238.5 65.2,241.4 66.6,244.2 67.5,244.0 68.4,243.8 69.3,243.4 70.0,243.3 70.8,243.1 71.5,242.7 72.3,242.5 73.0,241.9 73.8,240.9 74.5,240.3 75.3,239.6 76.1,239.1 76.9,239.4 77.8,239.1 78.6,238.6 79.4,238.4 80.2,237.5 80.9,237.1 81.7,235.8 82.4,235.5 83.2,234.2 84.0,232.8 84.7,231.6 85.5,230.4 86.2,228.8 87.0,227.5 87.8,225.7 88.5,224.4 89.2,223.2 90.0,221.8 90.8,220.6 91.5,219.3 92.3,218.5 93.0,217.8 93.8,217.3 94.6,216.2 95.3,215.9 96.1,215.7 96.8,215.4 97.6,215.1 98.3,215.4 99.0,214.9 99.7,214.9 100.5,214.8 101.2,214.9 101.9,215.1 102.6,214.8 103.3,214.7 104.1,214.6 104.8,214.5 105.5,214.3 106.3,214.5 107.0,214.4 107.8,214.7 108.5,214.3 109.2,214.1 110.0,214.0 110.7,214.1 111.4,214.3 112.1,214.2 112.9,213.9 113.6,213.9 114.3,214.1 115.0,214.0 115.8,214.0 116.5,214.0 117.2,213.8 117.9,213.7 118.6,213.9 119.4,213.9 120.1,213.9 120.8,213.9 121.5,213.9 122.3,213.6 123.0,213.8 123.7,213.3 124.4,213.7 125.2,213.5 125.9,213.7 126.6,213.6 127.4,213.3 128.1,213.4 128.8,213.5 129.5,213.2 130.3,213.3 131.0,213.2 131.7,213.2 132.4,213.2 133.2,212.9 133.9,212.8 134.6,212.7 135.3,213.1 136.1,212.8 136.8,212.8 137.5,212.7 138.2,212.6 138.9,212.8 139.7,212.8 140.4,212.3 141.1,212.6 141.8,212.5 142.6,212.4 143.3,212.4 144.0,212.6 144.8,212.3 145.5,212.3 146.3,212.2 147.0,211.8 147.7,212.2 148.5,211.9 149.2,211.8 150.0,211.6 150.7,211.4 151.5,210.6 152.2,210.3 153.0,210.0 153.8,209.4 154.6,209.1 155.3,208.9 156.1,208.6 157.1,207.6 158.1,206.7 158.9,206.2 159.7,205.3 160.5,204.7 161.3,204.2 162.1,203.6 162.9,202.6 163.7,201.3 164.6,199.6 165.4,198.8 166.2,197.4 166.9,195.8 167.7,194.7 168.4,193.2 169.2,191.6 169.9,189.6 170.7,187.7 171.4,185.3 172.2,183.5 173.0,181.3 173.8,179.3 174.5,177.1 175.3,175.4 176.7,174.4 177.9,171.3 178.6,170.6 179.3,170.2 180.3,171.1 181.3,169.6 182.1,171.1 182.8,172.3 183.6,175.4 184.4,178.4 185.4,183.3 186.4,188.4 187.4,192.4 188.4,196.5 189.4,199.5 190.4,202.7 191.4,204.6 192.5,206.6 193.2,207.5 194.0,208.6 194.8,209.4 195.5,210.1 196.2,210.8 197.0,211.8 197.8,212.5 198.5,213.2 199.3,213.6 200.1,214.2 200.8,214.2 201.6,214.7 202.4,214.4 203.2,214.2 204.0,214.2 204.8,214.0 205.6,213.8 206.3,213.5 207.1,213.4 207.8,213.2 208.5,213.1 209.2,213.1 210.0,212.9 210.7,212.7 211.5,212.5 212.3,212.4 213.1,212.2 213.9,212.1 214.7,211.9 215.5,211.6 216.3,211.6 217.2,211.5 218.0,211.5 218.8,211.3 219.6,211.6 220.3,212.3 221.1,212.8 221.8,213.2 222.6,214.1 223.3,214.7 224.1,215.3 224.8,216.2 225.6,217.6 226.4,218.6 227.1,220.1 227.9,221.1 228.7,223.1 229.4,224.1 230.2,225.7 230.9,227.3 231.7,228.4 232.4,229.9 233.2,231.0 233.9,232.3 234.7,233.1 235.4,234.5 236.2,235.6 237.0,236.4 237.8,237.4 238.5,238.5 239.2,239.2 240.0,240.2 241.0,239.5 242.0,238.6 242.8,237.8 243.5,237.1 244.2,236.2 245.0,235.4 245.8,234.5 246.6,233.6 247.3,233.0 248.1,232.4 248.8,231.8 249.6,230.9 250.3,229.9 251.1,229.5 251.8,228.8 252.6,227.9 253.3,227.1 254.1,226.3 254.9,225.5 255.6,225.0 256.4,223.9 257.2,223.2 258.1,223.1 259.0,223.3 259.8,222.4 260.6,221.7 261.3,221.1 262.1,220.4 262.9,219.3 263.6,218.8 264.4,217.9 265.1,217.2 265.9,216.6 266.6,216.3 267.4,215.5 268.1,215.3 268.9,215.1 269.7,214.9 270.6,214.6 271.4,214.9 272.2,214.7 273.0,215.0 273.8,215.1 274.6,215.6 275.4,215.8 276.2,216.0 277.0,215.7 277.8,215.7 278.7,215.4 279.5,215.3 280.3,215.2 281.1,214.9 281.9,214.7 282.7,214.4 283.5,214.1 284.3,213.8 285.1,213.9 285.9,214.0 286.8,214.2 287.6,214.5 288.4,214.7 289.2,214.9 290.0,215.2 290.8,214.8 291.6,215.2 292.4,215.1 293.2,214.9 294.0,214.7 294.8,214.6 295.6,214.6 296.4,214.3 297.2,214.1 297.9,214.1 298.7,213.9 299.4,213.5 300.2,213.8 301.0,213.4 301.7,213.2 302.5,213.2 303.3,213.0 304.0,213.0 304.8,213.1 305.6,212.8 306.3,212.7 307.1,212.5 307.8,212.4 308.6,212.6 309.4,212.6 310.1,212.3 310.9,212.6 311.6,212.1 312.4,212.2 313.1,211.9 313.9,211.9 314.6,211.8 315.4,211.4 316.2,211.5 317.1,211.1 317.9,210.9 318.7,210.6 319.4,210.3 320.2,209.7 320.9,209.3 321.7,209.1 322.7,208.6 323.5,207.8 324.2,207.2 325.0,206.6 325.8,205.5 326.6,204.0 327.3,203.1 328.1,201.6 328.8,200.6 329.6,198.7 330.3,197.1 331.1,195.6 331.8,193.5 332.6,191.2 333.4,189.3 334.1,187.3 334.9,185.3 335.6,183.7 336.4,181.9 337.1,180.2 337.9,178.4 338.8,176.6 339.6,174.9 340.5,173.3 341.3,172.5 342.2,171.5 343.0,170.7 344.0,172.4 345.0,173.4 346.0,175.8 347.0,178.3 348.0,180.8 349.0,183.4 350.0,184.4 351.0,185.2 351.7,186.8 352.4,188.2 353.1,189.3 354.1,191.2 355.1,193.5 356.1,195.8 357.1,198.6 357.9,199.9 358.6,200.8 359.4,202.4 360.1,203.5 360.9,204.5 361.6,205.8 362.4,206.6 363.2,207.7 364.1,211.2 365.1,212.0 366.1,212.2 367.1,210.6 368.1,208.1 369.0,206.0 369.8,204.1 371.2,203.1 371.9,204.8 372.6,206.0 373.4,208.8 374.2,211.3 375.0,213.4 375.8,215.1 377.2,221.4 377.9,219.9 378.6,218.3 379.5,214.1 380.3,210.2 381.3,207.3 382.3,204.1 383.1,202.3 383.9,200.4 384.6,201.2 385.3,202.1 386.7,205.3 387.4,200.9 388.2,199.8 389.0,198.6 389.8,200.1 390.5,201.6 391.3,203.2 392.0,204.7 392.8,206.2 393.6,207.2 394.3,208.3 395.1,209.3 395.8,210.4 396.6,211.4 397.4,212.2 398.2,212.9 398.9,213.7 399.7,214.4 400.5,215.2 401.2,215.7 402.0,216.3 402.7,216.8 403.4,217.4 404.1,217.9 404.9,218.5 405.6,219.0 406.3,219.4 407.1,219.7 407.8,220.1 408.5,220.5 409.2,220.9 410.0,221.2 410.7,221.6 411.5,221.4 412.3,221.3 413.1,221.2 413.9,221.0 414.7,220.5 415.5,220.0 416.3,219.5 417.1,219.0 417.8,218.7 418.6,218.5 419.3,218.2 420.0,217.9 420.7,217.6 421.5,217.4 422.2,217.1 422.9,216.8 423.7,216.6 424.4,216.3 425.2,216.0 425.9,215.7 426.7,215.5 427.4,215.2 428.2,214.4 428.9,213.7 429.7,212.9 430.4,212.2 431.2,211.4 431.9,211.0 432.7,210.7 433.4,210.3 434.1,209.9 434.8,209.5 435.6,209.2 436.3,208.8 437.0,208.4 437.8,208.1 438.5,207.7 439.2,207.3 439.9,206.9 440.7,206.6 441.4,206.2 442.1,206.1 442.9,206.0 443.6,205.9 444.3,205.9 445.0,205.8 445.8,205.7 446.5,205.6 447.2,205.8 448.0,206.1 448.8,206.3 449.5,206.5 450.2,206.8 451.0,207.0 451.7,207.5 452.4,208.0 453.1,208.5 453.9,209.0 454.6,209.5 455.3,210.0 456.0,210.5 456.8,211.0 457.7,211.6 458.5,212.1 459.4,212.7 460.2,213.2 461.7,215.3 463.2,211.5 464.8,217.8 466.3,214.8 468.3,216.6 470.3,215.9 471.7,217.4 473.0,212.6 474.4,214.0 476.4,212.2 478.4,217.6 479.8,213.4 481.1,215.4 482.5,211.2 484.0,216.6 485.5,215.0 487.0,215.8 488.5,209.7 490.1,215.1 491.6,214.4 493.1,214.8 494.6,208.3 496.6,211.3 498.6,211.6 500.0,213.4 501.3,209.5 502.7,211.0 504.7,207.2 506.7,209.4 508.1,207.6 509.4,211.5 510.8,210.0 512.8,213.3 514.8,209.8 516.3,213.5 517.9,213.7 519.4,214.7 520.9,215.2 521.6,213.4 522.4,211.6 523.1,209.9 523.9,208.1 524.9,205.6 525.9,203.1 526.6,202.4 527.3,201.8 528.0,201.1 529.0,203.1 530.0,205.1 530.8,206.4 531.5,207.6 532.2,208.9 533.0,210.2 533.8,210.4 534.6,210.6 535.5,210.8 536.3,211.0 537.1,211.2 537.9,211.3 538.7,211.4 539.5,211.6 540.3,211.7 541.1,211.8 541.8,212.1 542.6,212.4 543.3,212.6 544.1,212.9 544.8,213.2 545.6,215.6 546.5,218.0 547.5,215.0" fill="none" stroke="#2ca02c" stroke-width="1.45" stroke-linejoin="round" stroke-linecap="butt" clip-path="url(#cb)"/>
<line x1="41.0" y1="177.7" x2="44.5" y2="177.7" stroke="#000" stroke-width="0.8"/>
<text x="37.6" y="180.90" text-anchor="end" font-size="8.55">2</text>
<line x1="41.0" y1="212.4" x2="44.5" y2="212.4" stroke="#000" stroke-width="0.8"/>
<text x="37.6" y="215.60" text-anchor="end" font-size="8.55">0</text>
<line x1="41.0" y1="247.7" x2="44.5" y2="247.7" stroke="#000" stroke-width="0.8"/>
<text x="37.6" y="250.90" text-anchor="end" font-size="8.55">−2</text>
<rect x="386.9" y="160.4" width="156.7" height="99.1" rx="1.8" ry="1.8" fill="#fff" fill-opacity="0.8" stroke="#d0d0d0" stroke-opacity="0.8" stroke-width="0.9"/>
<line x1="390.2" y1="168.20" x2="408.6" y2="168.20" stroke="#1f77b4" stroke-width="1.45"/>
<text x="415.4" y="171.35" font-size="9.12">Gyr x</text>
<line x1="390.2" y1="181.90" x2="408.6" y2="181.90" stroke="#ff7f0e" stroke-width="1.45"/>
<text x="415.4" y="185.05" font-size="9.12">Gyr y</text>
<line x1="390.2" y1="195.60" x2="408.6" y2="195.60" stroke="#2ca02c" stroke-width="1.45"/>
<text x="415.4" y="198.75" font-size="9.12">Gyr z</text>
<line x1="390.2" y1="209.50" x2="408.6" y2="209.50" stroke="#ff0000" stroke-opacity="0.7" stroke-width="1.45" stroke-dasharray="5.09 2.2"/>
<text x="415.4" y="212.65" font-size="9.12">Grab container</text>
<rect x="390.2" y="220.30" width="18.4" height="6.4" fill="#0000ff" fill-opacity="0.3" stroke="#0000ff" stroke-opacity="0.3" stroke-width="0.92"/>
<text x="415.4" y="226.65" font-size="9.12">Pre-drink (hand-to-mouth)</text>
<rect x="390.2" y="234.20" width="18.4" height="6.4" fill="#bfbf00" fill-opacity="0.3" stroke="#bfbf00" stroke-opacity="0.3" stroke-width="0.92"/>
<text x="415.4" y="240.55" font-size="9.12">Sip</text>
<rect x="390.2" y="248.00" width="18.4" height="6.4" fill="#008000" fill-opacity="0.3" stroke="#008000" stroke-opacity="0.3" stroke-width="0.92"/>
<text x="415.4" y="254.35" font-size="9.12">Post-drink (mouth-to-hand)</text>
<rect x="44.5" y="152.9" width="503.3" height="114.3" fill="none" stroke="#000" stroke-width="0.73"/>
</g>
<line x1="101.6" y1="130.2" x2="101.6" y2="133.7" stroke="#000" stroke-width="0.8"/>
<line x1="161.25" y1="130.2" x2="161.25" y2="133.7" stroke="#000" stroke-width="0.8"/>
<line x1="220.9" y1="130.2" x2="220.9" y2="133.7" stroke="#000" stroke-width="0.8"/>
<line x1="280.55" y1="130.2" x2="280.55" y2="133.7" stroke="#000" stroke-width="0.8"/>
<line x1="340.2" y1="130.2" x2="340.2" y2="133.7" stroke="#000" stroke-width="0.8"/>
<line x1="399.85" y1="130.2" x2="399.85" y2="133.7" stroke="#000" stroke-width="0.8"/>
<line x1="459.5" y1="130.2" x2="459.5" y2="133.7" stroke="#000" stroke-width="0.8"/>
<line x1="519.2" y1="130.2" x2="519.2" y2="133.7" stroke="#000" stroke-width="0.8"/>
<line x1="101.6" y1="267.2" x2="101.6" y2="270.7" stroke="#000" stroke-width="0.8"/>
<line x1="161.25" y1="267.2" x2="161.25" y2="270.7" stroke="#000" stroke-width="0.8"/>
<line x1="220.9" y1="267.2" x2="220.9" y2="270.7" stroke="#000" stroke-width="0.8"/>
<line x1="280.55" y1="267.2" x2="280.55" y2="270.7" stroke="#000" stroke-width="0.8"/>
<line x1="340.2" y1="267.2" x2="340.2" y2="270.7" stroke="#000" stroke-width="0.8"/>
<line x1="399.85" y1="267.2" x2="399.85" y2="270.7" stroke="#000" stroke-width="0.8"/>
<line x1="459.5" y1="267.2" x2="459.5" y2="270.7" stroke="#000" stroke-width="0.8"/>
<line x1="519.2" y1="267.2" x2="519.2" y2="270.7" stroke="#000" stroke-width="0.8"/>
<text x="101.6" y="281.0" text-anchor="middle" font-size="8.55">148</text>
<text x="161.25" y="281.0" text-anchor="middle" font-size="8.55">150</text>
<text x="220.9" y="281.0" text-anchor="middle" font-size="8.55">152</text>
<text x="280.55" y="281.0" text-anchor="middle" font-size="8.55">154</text>
<text x="340.2" y="281.0" text-anchor="middle" font-size="8.55">156</text>
<text x="399.85" y="281.0" text-anchor="middle" font-size="8.55">158</text>
<text x="459.5" y="281.0" text-anchor="middle" font-size="8.55">160</text>
<text x="519.2" y="281.0" text-anchor="middle" font-size="8.55">162</text>
<text x="296.1" y="293.5" text-anchor="middle" font-size="9.12">Time (s)</text>
<text transform="translate(11.0,73.05) rotate(-90)" text-anchor="middle" font-size="9.12">Acceleration (m/s<tspan font-size="6.38" dy="-4.0">2</tspan><tspan dy="4.0">)</tspan></text>
<text transform="translate(18.15,210.45) rotate(-90)" text-anchor="middle" font-size="9.12">Angular velocity (rad/s)</text>
</svg>
</body></html>
